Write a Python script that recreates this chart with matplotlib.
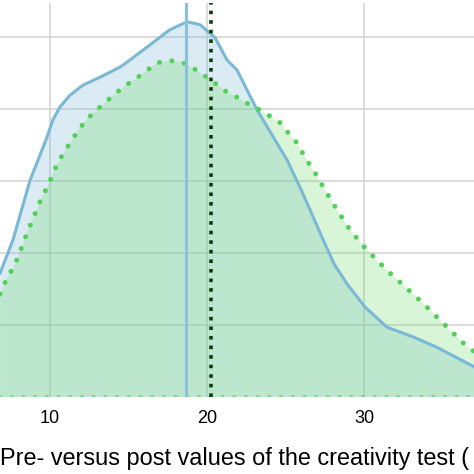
import numpy as np
import matplotlib.pyplot as plt

plt.rcParams['font.family'] = ['Liberation Sans', 'DejaVu Sans']

# pre-test density
pre_x = [6.82, 7.64, 8.73, 9.24, 9.81, 10.19, 10.64, 11.27, 12.10, 13.18, 14.46,
         15.10, 16.37, 17.64, 18.73, 19.55, 20.51, 21.27, 21.91, 23.18, 24.33,
         25.10, 25.99, 26.56, 27.32, 28.09, 28.92, 30.06, 31.46, 33.18, 34.65, 37.01]
pre_y = [0.0172, 0.0218, 0.0301, 0.0329, 0.0361, 0.0385, 0.0403, 0.0419, 0.0433,
         0.0444, 0.0458, 0.0468, 0.0489, 0.0510, 0.0521, 0.0517, 0.0499, 0.0468,
         0.0454, 0.0399, 0.0357, 0.0329, 0.0288, 0.0260, 0.0222, 0.0185, 0.0157,
         0.0125, 0.0097, 0.0083, 0.0069, 0.0042]

# post-test density
post_x = [6.82, 7.26, 7.64, 7.96, 8.28, 8.54, 8.85, 9.17, 9.49, 9.87, 10.19, 10.51,
          10.96, 11.40, 11.85, 12.36, 12.99, 13.57, 14.20, 14.84, 15.54, 16.82,
          17.64, 18.41, 19.11, 20.38, 21.15, 21.85, 22.55, 23.25, 24.01, 24.65,
          25.16, 25.73, 26.11, 26.56, 27.01, 27.39, 28.28, 29.11, 30.19, 31.46,
          32.61, 33.82, 34.97, 36.37, 37.01]
post_y = [0.0143, 0.0165, 0.0179, 0.0194, 0.0213, 0.0228, 0.0244, 0.0261, 0.0278,
          0.0293, 0.0310, 0.0326, 0.0342, 0.0357, 0.0372, 0.0386, 0.0399, 0.0410,
          0.0422, 0.0433, 0.0443, 0.0464, 0.0467, 0.0465, 0.0457, 0.0438, 0.0425,
          0.0417, 0.0408, 0.0400, 0.0390, 0.0381, 0.0367, 0.0353, 0.0338, 0.0322,
          0.0307, 0.0292, 0.0260, 0.0232, 0.0204, 0.0176, 0.0153, 0.0129, 0.0104,
          0.0074, 0.0063]

pre_mean = 18.66
post_mean = 20.25

blue = '#7ab8d6'
green = '#66d966'
dot_green = '#52d05a'

fig = plt.figure(figsize=(4.74, 4.74), dpi=100)
ax = fig.add_axes([0.0, 0.1624, 1.0, 0.8312])

ax.fill_between(pre_x, pre_y, 0, facecolor=blue, alpha=0.27, linewidth=0)
ax.plot(pre_x, pre_y, color=blue, linewidth=2.2, solid_joinstyle='round')

ax.fill_between(post_x, post_y, 0, facecolor=green, alpha=0.25, linewidth=0)
ax.plot(post_x, post_y, color=dot_green, linewidth=3.6, linestyle=(0, (0.01, 2.5)),
        dash_capstyle='round')
ax.axhline(0, color=dot_green, linewidth=3.0, linestyle=(0, (0.01, 2.8)),
           dash_capstyle='round', alpha=0.6)

ax.axvline(pre_mean, color='#8cc0dc', linewidth=2.2)
ax.axvline(post_mean, color='#0b3d0b', linewidth=2.6, linestyle=':')

ax.set_xlim(6.815, 37.006)
ax.set_ylim(0, 0.0547)
ax.set_xticks([10, 20, 30])
ax.set_yticks([0.01, 0.02, 0.03, 0.04, 0.05])
ax.set_yticklabels([])
ax.tick_params(axis='x', length=0, pad=9, labelsize=13)
ax.tick_params(axis='y', length=0)
ax.grid(True, color='#d2d2d2', linewidth=1.1)
ax.set_axisbelow(True)
for s in ax.spines.values():
    s.set_visible(False)

fig.text(0.001, 0.019, 'Pre- versus post values of the creativity test (',
         fontsize=16.9, va='baseline', ha='left')

plt.savefig('out.png', dpi=100)
